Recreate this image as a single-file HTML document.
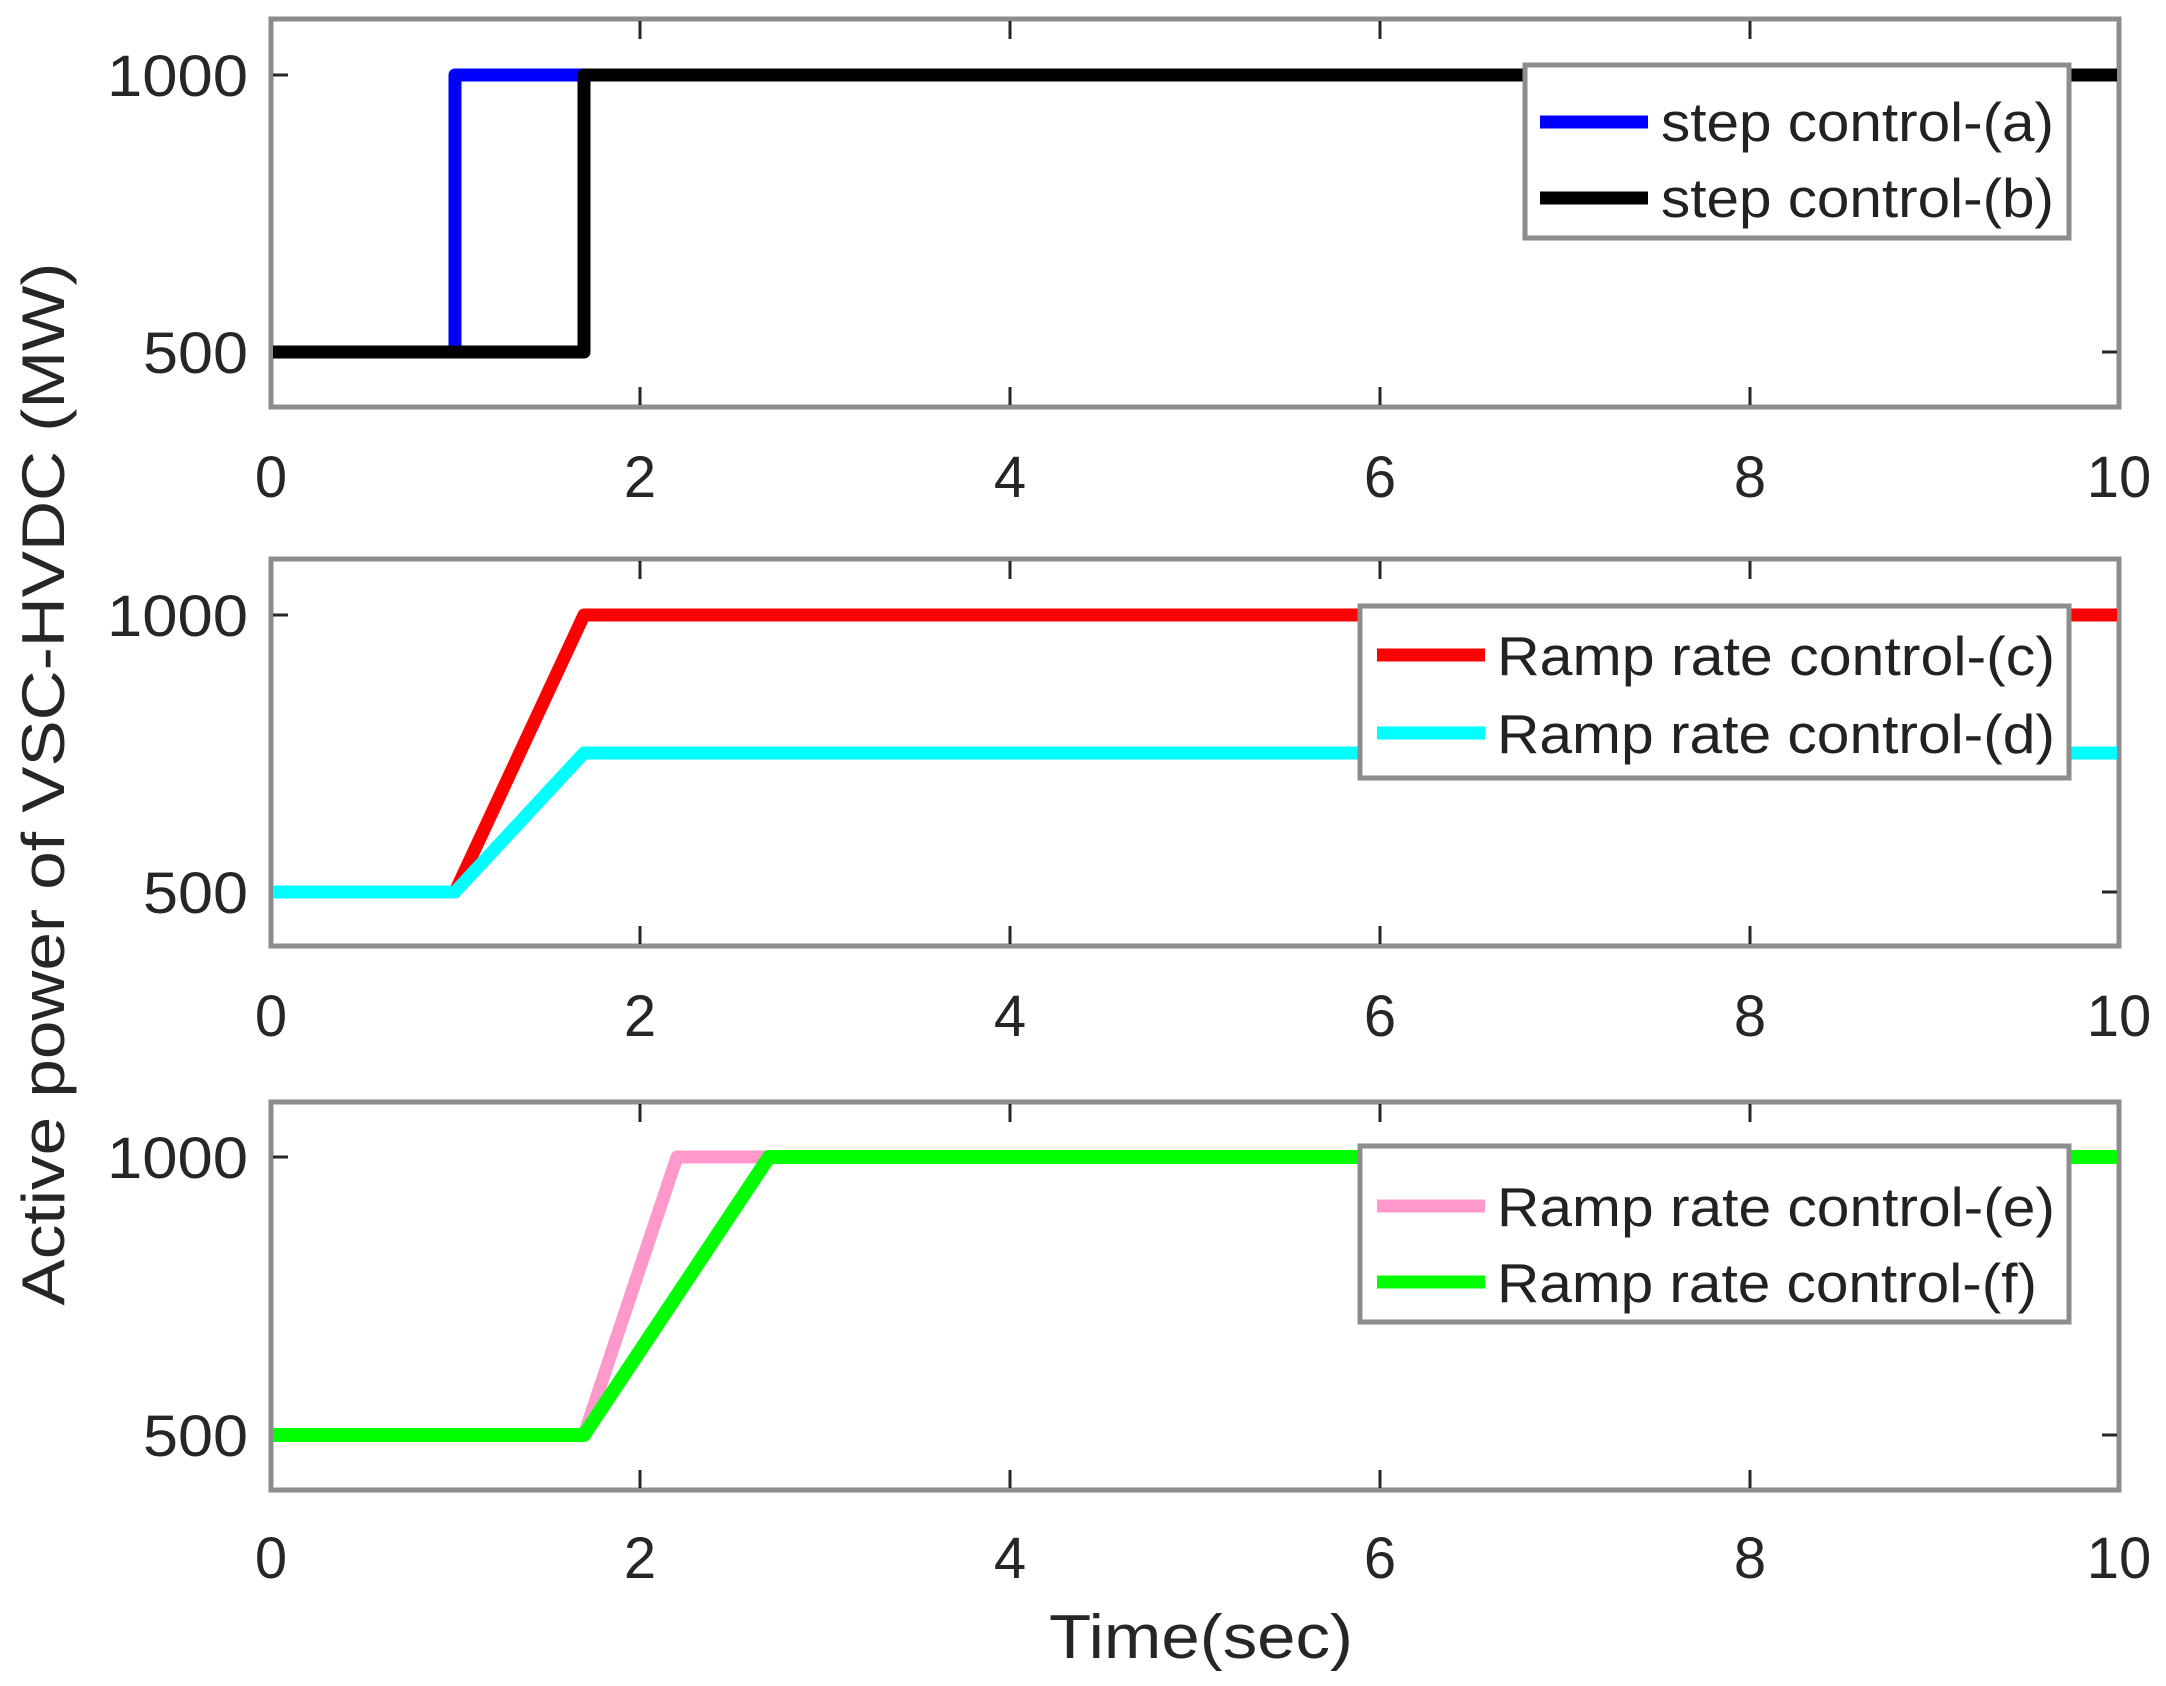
<!DOCTYPE html>
<html><head><meta charset="utf-8"><style>html,body{margin:0;padding:0;background:#fff}svg{display:block}</style></head>
<body>
<svg width="2166" height="1686" viewBox="0 0 2166 1686" xmlns="http://www.w3.org/2000/svg" font-family="Liberation Sans, Arial, sans-serif">
<rect width="2166" height="1686" fill="#fff"/>
<!-- Panel 1 -->
<g>
<rect x="271" y="19" width="1848" height="388" fill="#fff" stroke="#8c8c8c" stroke-width="5"/>
<g stroke="#262626" stroke-width="3">
<path d="M640,21v18M1010,21v18M1380,21v18M1750,21v18M640,405v-18M1010,405v-18M1380,405v-18M1750,405v-18M273,75h15M273,352h15M2117,75h-15M2117,352h-15"/>
</g>
<polyline points="273,352 455,352 455,75 584,75" fill="none" stroke="#0000ff" stroke-width="13" stroke-linejoin="round"/>
<polyline points="273,352 584,352 584,75 2117,75" fill="none" stroke="#000" stroke-width="13" stroke-linejoin="round"/>
<rect x="1525" y="65" width="544" height="173" fill="#fff" stroke="#8c8c8c" stroke-width="5"/>
<line x1="1540" y1="122" x2="1648" y2="122" stroke="#0000ff" stroke-width="13"/>
<line x1="1540" y1="198" x2="1648" y2="198" stroke="#000" stroke-width="13"/>
<text x="1661" y="141" font-size="55" fill="#222" textLength="393" lengthAdjust="spacingAndGlyphs">step control-(a)</text>
<text x="1661" y="217" font-size="55" fill="#222" textLength="393" lengthAdjust="spacingAndGlyphs">step control-(b)</text>
</g>
<!-- Panel 2 -->
<g>
<rect x="271" y="559" width="1848" height="387" fill="#fff" stroke="#8c8c8c" stroke-width="5"/>
<g stroke="#262626" stroke-width="3">
<path d="M640,561v18M1010,561v18M1380,561v18M1750,561v18M640,944v-18M1010,944v-18M1380,944v-18M1750,944v-18M273,615h15M273,892h15M2117,615h-15M2117,892h-15"/>
</g>
<polyline points="273,892 455,892 584,615 2117,615" fill="none" stroke="#ff0000" stroke-width="13" stroke-linejoin="round"/>
<polyline points="273,892 455,892 584,753 2117,753" fill="none" stroke="#00ffff" stroke-width="13" stroke-linejoin="round"/>
<rect x="1360" y="606" width="709" height="172" fill="#fff" stroke="#8c8c8c" stroke-width="5"/>
<line x1="1377" y1="655" x2="1485" y2="655" stroke="#ff0000" stroke-width="13"/>
<line x1="1377" y1="733" x2="1485" y2="733" stroke="#00ffff" stroke-width="13"/>
<text x="1497" y="675" font-size="55" fill="#222" textLength="558" lengthAdjust="spacingAndGlyphs">Ramp rate control-(c)</text>
<text x="1497" y="753" font-size="55" fill="#222" textLength="558" lengthAdjust="spacingAndGlyphs">Ramp rate control-(d)</text>
</g>
<!-- Panel 3 -->
<g>
<rect x="271" y="1102" width="1848" height="388" fill="#fff" stroke="#8c8c8c" stroke-width="5"/>
<g stroke="#262626" stroke-width="3">
<path d="M640,1104v18M1010,1104v18M1380,1104v18M1750,1104v18M640,1488v-18M1010,1488v-18M1380,1488v-18M1750,1488v-18M273,1157h15M273,1435h15M2117,1157h-15M2117,1435h-15"/>
</g>
<polyline points="273,1435 584,1435 677,1157 769,1157" fill="none" stroke="#ff99cc" stroke-width="13" stroke-linejoin="round"/>
<polyline points="273,1435 584,1435 769,1157 2117,1157" fill="none" stroke="#00ff00" stroke-width="14" stroke-linejoin="round"/>
<rect x="1360" y="1146" width="709" height="176" fill="#fff" stroke="#8c8c8c" stroke-width="5"/>
<line x1="1377" y1="1206" x2="1485" y2="1206" stroke="#ff99cc" stroke-width="13"/>
<line x1="1377" y1="1282" x2="1485" y2="1282" stroke="#00ff00" stroke-width="13"/>
<text x="1497" y="1226" font-size="55" fill="#222" textLength="558" lengthAdjust="spacingAndGlyphs">Ramp rate control-(e)</text>
<text x="1497" y="1302" font-size="55" fill="#222" textLength="540" lengthAdjust="spacingAndGlyphs">Ramp rate control-(f)</text>
</g>
<!-- tick labels -->
<g font-size="58" fill="#262626" text-anchor="middle">
<text x="271" y="497">0</text><text x="640" y="497">2</text><text x="1010" y="497">4</text><text x="1380" y="497">6</text><text x="1750" y="497">8</text><text x="2119" y="497">10</text>
<text x="271" y="1036">0</text><text x="640" y="1036">2</text><text x="1010" y="1036">4</text><text x="1380" y="1036">6</text><text x="1750" y="1036">8</text><text x="2119" y="1036">10</text>
<text x="271" y="1578">0</text><text x="640" y="1578">2</text><text x="1010" y="1578">4</text><text x="1380" y="1578">6</text><text x="1750" y="1578">8</text><text x="2119" y="1578">10</text>
</g>
<g font-size="58" fill="#262626" text-anchor="end">
<text x="248" y="96" textLength="141" lengthAdjust="spacingAndGlyphs">1000</text><text x="248" y="373" textLength="105" lengthAdjust="spacingAndGlyphs">500</text>
<text x="248" y="636" textLength="141" lengthAdjust="spacingAndGlyphs">1000</text><text x="248" y="913" textLength="105" lengthAdjust="spacingAndGlyphs">500</text>
<text x="248" y="1178" textLength="141" lengthAdjust="spacingAndGlyphs">1000</text><text x="248" y="1456" textLength="105" lengthAdjust="spacingAndGlyphs">500</text>
</g>
<text x="1049" y="1658" font-size="62" fill="#262626" textLength="304" lengthAdjust="spacingAndGlyphs">Time(sec)</text>
<text transform="translate(64,784) rotate(-90)" font-size="60" fill="#262626" text-anchor="middle" textLength="1043" lengthAdjust="spacingAndGlyphs">Active power of VSC-HVDC (MW)</text>
</svg>
</body></html>
